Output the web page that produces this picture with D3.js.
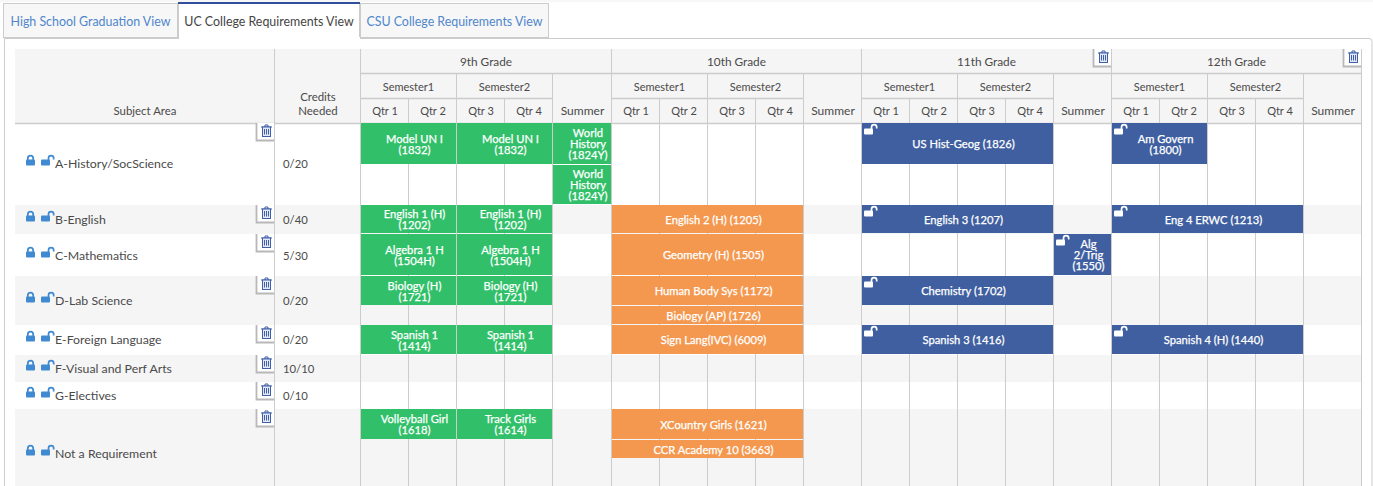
<!DOCTYPE html>
<html>
<head>
  <meta charset="utf-8">
  <script src="https://d3js.org/d3.v7.min.js"></script>
  <style>
    html, body { margin: 0; padding: 0; background: #fff; overflow: hidden; }
    svg { display: block; }
    text { font-family: Lato, "Noto Sans", sans-serif; font-size: 11.4px; fill: #4a4a4a; }
  </style>
</head>
<body>
<script>
/* Chart data */
var tabs = ["High School Graduation View", "UC College Requirements View", "CSU College Requirements View"];
var grades = ["9th Grade", "10th Grade", "11th Grade", "12th Grade"];
var semesters = ["Semester1", "Semester2"];
var quarters = ["Qtr 1", "Qtr 2", "Qtr 3", "Qtr 4"];

var subjects = ["A-History/SocScience", "B-English", "C-Mathematics", "D-Lab Science", "E-Foreign Language", "F-Visual and Perf Arts", "G-Electives", "Not a Requirement"];
var credits = ["0/20", "0/40", "5/30", "0/20", "0/20", "10/10", "0/10", ""];
var subjectFirstLane = [0, 2, 3, 4, 6, 7, 8, 9];
var subjectLastLane = [2, 3, 4, 6, 7, 8, 9, 12];

/* one entry per course: label lines, first slot, end slot, lane, status */
var courseLabels = [
  ["Model UN I", "(1832)"], ["Model UN I", "(1832)"], ["World", "History", "(1824Y)"], ["World", "History", "(1824Y)"],
  ["US Hist-Geog (1826)"], ["Am Govern", "(1800)"],
  ["English 1 (H)", "(1202)"], ["English 1 (H)", "(1202)"], ["English 2 (H) (1205)"], ["English 3 (1207)"], ["Eng 4 ERWC (1213)"],
  ["Algebra 1 H", "(1504H)"], ["Algebra 1 H", "(1504H)"], ["Geometry (H) (1505)"], ["Alg", "2/Trig", "(1550)"],
  ["Biology (H)", "(1721)"], ["Biology (H)", "(1721)"], ["Human Body Sys (1172)"], ["Biology (AP) (1726)"], ["Chemistry (1702)"],
  ["Spanish 1", "(1414)"], ["Spanish 1", "(1414)"], ["Sign Lang(IVC) (6009)"], ["Spanish 3 (1416)"], ["Spanish 4 (H) (1440)"],
  ["Volleyball Girl", "(1618)"], ["Track Girls", "(1614)"], ["XCountry Girls (1621)"], ["CCR Academy 10 (3663)"]
];
var courseStart = [0, 2, 4, 4, 10, 15, 0, 2, 5, 10, 15, 0, 2, 5, 14, 0, 2, 5, 5, 10, 0, 2, 5, 10, 15, 0, 2, 5, 5];
var courseEnd   = [2, 4, 5, 5, 14, 17, 2, 4, 9, 14, 19, 2, 4, 9, 15, 2, 4, 9, 9, 14, 2, 4, 9, 14, 19, 2, 4, 9, 9];
var courseLane  = [0, 0, 0, 1, 0, 0, 2, 2, 2, 2, 2, 3, 3, 3, 3, 4, 4, 4, 5, 4, 6, 6, 6, 6, 6, 9, 9, 9, 10];
var courseStatus = ["done", "done", "done", "done", "planned", "planned",
  "done", "done", "current", "planned", "planned",
  "done", "done", "current", "planned",
  "done", "done", "current", "current", "planned",
  "done", "done", "current", "planned", "planned",
  "done", "done", "current", "current"];

/* Layout */
var width = 1373, height = 486;
var colour = d3.scaleOrdinal().domain(["done", "current", "planned"]).range(["#31c069", "#f4984f", "#3f5fa0"]);

// slot 0..20: four quarters and a wider summer per grade
var x = d3.scaleLinear()
  .domain([0, 4, 5, 9, 10, 14, 15, 19, 20])
  .range([360, 552, 611, 803, 861, 1053, 1111, 1303, 1361]);

// lanes are stacked inside the subject rows
var y = d3.scaleLinear()
  .domain(d3.range(13))
  .range([123, 165, 205, 234, 276, 306, 325, 355, 382, 409, 440, 459, 486]);

var subjectTextY = [164, 220, 256, 301, 340, 369, 396, 454];

var svg = d3.select("body").append("svg").attr("width", width).attr("height", height);

var grid = "#cccccc", stripe = "#f5f5f5";

function line(x1, y1, x2, y2, w) {
  svg.append("line").attr("x1", x1).attr("y1", y1).attr("x2", x2).attr("y2", y2)
    .attr("stroke", grid).attr("stroke-width", w || 1);
}

function label(str, px, py, anchor) {
  return svg.append("text").attr("x", px).attr("y", py - 1)
    .attr("text-anchor", anchor || "middle").attr("dominant-baseline", "central").text(str);
}

function lockIcon(px, py, open, fill) {
  var g = svg.append("g").attr("transform", "translate(" + px + "," + py + ")");
  g.append("rect").attr("x", 0).attr("y", 4.5).attr("width", 9).attr("height", 6).attr("rx", 1).attr("fill", fill);
  g.append("path")
    .attr("d", open ? "M7.5 5V3.2a2.6 2.6 0 0 1 5.2 0V4.5" : "M1.8 5V3.4a2.7 2.7 0 0 1 5.4 0V5")
    .attr("fill", "none").attr("stroke", fill).attr("stroke-width", 1.7);
}

function trashIcon(right, top) {
  svg.append("rect").attr("x", right - 17).attr("y", top).attr("width", 17).attr("height", 18).attr("fill", "#fff");
  svg.append("path").attr("d", "M" + (right - 17.5) + " " + top + "V" + (top + 17.5) + "H" + right)
    .attr("fill", "none").attr("stroke", "#b8b8b8").attr("stroke-width", 1.8);
  var g = svg.append("g").attr("transform", "translate(" + (right - 12.5) + "," + (top + 1.5) + ")")
    .attr("fill", "none").attr("stroke", "#3f5fa8").attr("stroke-width", 1);
  g.append("path").attr("d", "M-0.5 2.5H10.5M3.5 2.5V0.5H6.5V2.5");
  g.append("rect").attr("x", 1).attr("y", 2.5).attr("width", 8).attr("height", 9.5).attr("fill", "#e3e8f4");
  g.append("path").attr("d", "M3 4.5V10M5 4.5V10M7 4.5V10");
}

/* Tabs and panel */
svg.append("rect").attr("width", width).attr("height", 2).attr("fill", "#f7f7f7");
svg.append("path").attr("d", "M4.5 486V38.5H1369a3 3 0 0 1 3 3V486").attr("fill", "none").attr("stroke", grid);

var tabEdges = [3, 178, 360, 549];
tabs.forEach(function(t, i) {
  var active = i === 1;
  svg.append("rect").attr("x", tabEdges[i] + 0.5).attr("y", active ? 2.5 : 3.5)
    .attr("width", tabEdges[i + 1] - tabEdges[i] - 1).attr("height", active ? 36 : 34)
    .attr("fill", active ? "#fff" : "#f7f7f7").attr("stroke", grid);
  if (active) {
    svg.append("rect").attr("x", tabEdges[i]).attr("y", 2).attr("width", tabEdges[i + 1] - tabEdges[i]).attr("height", 2).attr("fill", "#2f4f9c");
    svg.append("rect").attr("x", tabEdges[i] + 1).attr("y", 37).attr("width", tabEdges[i + 1] - tabEdges[i] - 1).attr("height", 3).attr("fill", "#fff");
  }
  label(t, (tabEdges[i] + tabEdges[i + 1]) / 2, 22.5).style("fill", active ? "#444" : "#4f86cc").style("font-size", "12.4px");
});

/* Header background */
svg.append("rect").attr("x", 15).attr("y", 49).attr("width", 1346).attr("height", 74).attr("fill", stripe);

/* Subject row stripes */
subjects.forEach(function(s, i) {
  if (i % 2 === 1) {
    svg.append("rect").attr("x", 15).attr("y", y(subjectFirstLane[i])).attr("width", 1346)
      .attr("height", y(subjectLastLane[i]) - y(subjectFirstLane[i])).attr("fill", stripe);
  }
});

/* Grid */
line(15, 123.5, 1361, 123.5, 1.5);
line(274.5, 49, 274.5, 486);
d3.range(0, 21).forEach(function(slot) {
  var top = slot % 5 === 0 ? 49 : (slot % 5 === 4 || slot % 5 === 2 ? 74 : 99);
  line(Math.floor(x(slot)) + 0.5, top, Math.floor(x(slot)) + 0.5, 486);
});

/* Header text */
label("Subject Area", 145, 111);
label("Credits", 318, 97);
label("Needed", 318, 111);
grades.forEach(function(g, i) {
  var start = i * 5;
  label(g, (x(start) + x(start + 5)) / 2 + 0.5, 62).style("font-size", "11.8px");
  line(x(start), 73.5, x(start + 5), 73.5, 1.5);
  semesters.forEach(function(sem, j) {
    var a = x(start + j * 2), b = x(start + j * 2 + 2);
    label(sem, (a + b) / 2 + 0.5, 87).style("font-size", "11px");
    line(a, 98.5, b, 98.5, 1.5);
  });
  quarters.forEach(function(q, j) {
    label(q, (x(start + j) + x(start + j + 1)) / 2 + 1, 111).style("font-size", "11px");
  });
  label("Summer", (x(start + 4) + x(start + 5)) / 2 + 1, 111).style("font-size", "12px");
});
trashIcon(x(15), 49);
trashIcon(x(20), 49);

/* Courses */
svg.selectAll("rect.course").data(courseLabels).enter().append("rect")
  .attr("class", "course")
  .attr("x", function(d, i) { return x(courseStart[i]) + 1; })
  .attr("y", function(d, i) { return y(courseLane[i]); })
  .attr("width", function(d, i) { return x(courseEnd[i]) - x(courseStart[i]) - 1; })
  .attr("height", function(d, i) { return y(courseLane[i] + 1) - y(courseLane[i]) - 1; })
  .attr("fill", function(d, i) { return colour(courseStatus[i]); });

courseLabels.forEach(function(lines, i) {
  var cx = (x(courseStart[i]) + x(courseEnd[i])) / 2 + 6.5;
  var cy = (y(courseLane[i]) + y(courseLane[i] + 1)) / 2 + 0.5;
  lines.forEach(function(t, k) {
    label(t, cx, cy + (k - (lines.length - 1) / 2) * 11)
      .style("fill", "#fff").style("font-size", "11.2px")
      .style("stroke", "#fff").style("stroke-width", 0.25);
  });
  if (courseStatus[i] === "planned") {
    lockIcon(x(courseStart[i]) + 3, y(courseLane[i]) + 1, true, "#fff");
  }
});

/* Subject rows */
subjects.forEach(function(s, i) {
  label(s, 55, subjectTextY[i], "start").style("font-size", "12.3px");
  if (credits[i]) label(credits[i], 283, subjectTextY[i], "start").style("font-size", "11.3px");
  lockIcon(26, subjectTextY[i] - 9, false, "#3f8ad0");
  lockIcon(41, subjectTextY[i] - 9, true, "#3f8ad0");
  trashIcon(274, y(subjectFirstLane[i]));
});
</script>
</body>
</html>
